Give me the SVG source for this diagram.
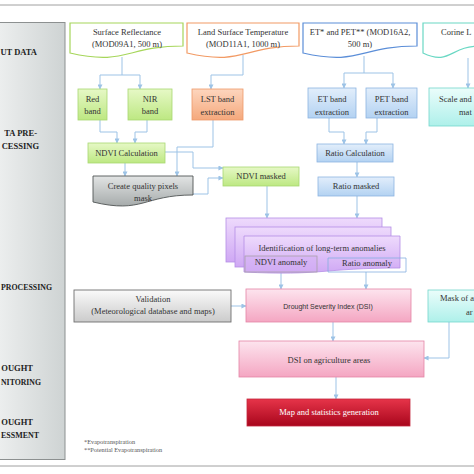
<svg xmlns="http://www.w3.org/2000/svg" width="474" height="474" viewBox="0 0 474 474">
<defs>
<linearGradient id="gPanel" x1="0" y1="0" x2="1" y2="0"><stop offset="0" stop-color="#eef0f0"/><stop offset="1" stop-color="#ced3d3"/></linearGradient>
<linearGradient id="gGreen" x1="0" y1="0" x2="0" y2="1"><stop offset="0" stop-color="#e6f8c6"/><stop offset="1" stop-color="#bde882"/></linearGradient>
<linearGradient id="gOrange" x1="0" y1="0" x2="0" y2="1"><stop offset="0" stop-color="#fdd6be"/><stop offset="1" stop-color="#f5a87c"/></linearGradient>
<linearGradient id="gBlue" x1="0" y1="0" x2="0" y2="1"><stop offset="0" stop-color="#e2eefb"/><stop offset="1" stop-color="#b3d2f2"/></linearGradient>
<linearGradient id="gTeal" x1="0" y1="0" x2="0" y2="1"><stop offset="0" stop-color="#ebfdfb"/><stop offset="1" stop-color="#aef0ea"/></linearGradient>
<linearGradient id="gPink" x1="0" y1="0" x2="0" y2="1"><stop offset="0" stop-color="#fde4ee"/><stop offset="1" stop-color="#f4a6c2"/></linearGradient>
<linearGradient id="gRed" x1="0" y1="0" x2="0" y2="1"><stop offset="0" stop-color="#e63449"/><stop offset="1" stop-color="#a8061c"/></linearGradient>
<linearGradient id="gPurple" x1="0" y1="0" x2="0" y2="1"><stop offset="0" stop-color="#eedafc"/><stop offset="1" stop-color="#cfa8f4"/></linearGradient>
<linearGradient id="gGray" x1="0" y1="0" x2="0" y2="1"><stop offset="0" stop-color="#e2e4e4"/><stop offset="1" stop-color="#a6abab"/></linearGradient>
<linearGradient id="gLight" x1="0" y1="0" x2="0" y2="1"><stop offset="0" stop-color="#fafafa"/><stop offset="1" stop-color="#cbcbcb"/></linearGradient>
<marker id="arr" viewBox="0 0 6 6" refX="5.5" refY="3" markerWidth="5" markerHeight="5" markerUnits="userSpaceOnUse" orient="auto"><path d="M0,0 L6,3 L0,6 z" fill="#9dc3e6"/></marker>
</defs>
<style>
.t{font-family:"Liberation Serif","Times New Roman",serif;font-size:8.5px;fill:#333;text-anchor:middle}
.s{font-family:"Liberation Sans",Arial,sans-serif;font-size:7px;fill:#333;text-anchor:middle}
.lab{font-family:"Liberation Serif","Times New Roman",serif;font-size:8.5px;font-weight:bold;fill:#222;text-anchor:end}
.labs{font-family:"Liberation Serif","Times New Roman",serif;font-size:8.5px;font-weight:bold;fill:#222}
.fn{font-family:"Liberation Serif","Times New Roman",serif;font-size:6.3px;fill:#555}
.c{fill:none;stroke:#9dc3e6;stroke-width:1;marker-end:url(#arr)}
.cn{fill:none;stroke:#9dc3e6;stroke-width:1}
</style>
<rect width="474" height="474" fill="#ffffff"/>
<line x1="0" y1="5" x2="474" y2="5" stroke="#a0a0a0" stroke-width="1"/>
<line x1="0" y1="466" x2="474" y2="466" stroke="#a0a0a0" stroke-width="1"/>

<g id="stages">
<rect x="-5" y="22.5" width="70" height="437" fill="url(#gPanel)" stroke="#8c9090" stroke-width="1"/>
<text class="lab" x="37" y="55">UT DATA</text>
<text class="lab" x="37" y="136">TA PRE-</text>
<text class="lab" x="39" y="149">CESSING</text>
<text class="labs" x="1" y="290" textLength="51" lengthAdjust="spacingAndGlyphs">PROCESSING</text>
<text class="lab" x="33" y="371">OUGHT</text>
<text class="labs" x="1" y="385" textLength="40" lengthAdjust="spacingAndGlyphs">NITORING</text>
<text class="lab" x="33" y="425">OUGHT</text>
<text class="labs" x="1" y="438" textLength="38" lengthAdjust="spacingAndGlyphs">ESSMENT</text>
</g>

<g id="connectors">
<path class="cn" d="M122,57 V75 H100"/><path class="c" d="M100,75 V89"/>
<path class="c" d="M122,75 H140 V89"/>
<path class="c" d="M243,55 V75 H211 V89"/>
<path class="cn" d="M364,56 V73 H344"/><path class="c" d="M344,73 V88"/>
<path class="c" d="M364,73 H393 V88"/>
<path class="c" d="M468,58 V88"/>
<path class="c" d="M100,120 V132 H117 V143"/>
<path class="c" d="M147,120 V132 H135 V143"/>
<path class="c" d="M125,163 V176"/>
<path class="c" d="M213,120 V147 H177 V176"/>
<path class="c" d="M165,152 H193 V168 H223"/>
<path class="c" d="M193,194 H208 V178 H223"/>
<path class="c" d="M329,118 V132 H344 V144"/>
<path class="c" d="M377,118 V132 H366 V144"/>
<path class="c" d="M357,162 V177"/>
<path class="c" d="M267,186 V218"/>
<path class="c" d="M357,196 V218"/>
<path class="c" d="M281,272 V289"/>
<path class="c" d="M366,272 V289"/>
<path class="c" d="M231,306 H246"/>
<path class="c" d="M333,322 V341"/>
<path class="c" d="M449,322 V358 H424"/>
<path class="c" d="M336,377 V399"/>
</g>

<g id="surface-reflectance">
<path d="M70,23 H183 V46 C126,46 126,66 70,53 Z" fill="#ffffff" stroke="#a6d65a" stroke-width="1.2"/>
<text class="t" x="127" y="35">Surface Reflectance</text>
<text class="t" x="127" y="47">(MOD09A1, 500 m)</text>
</g>
<g id="land-surface-temperature">
<path d="M187,23 H299 V46 C243,46 243,66 187,53 Z" fill="#ffffff" stroke="#f29a64" stroke-width="1.2"/>
<text class="t" x="243" y="35">Land Surface Temperature</text>
<text class="t" x="243" y="47">(MOD11A1, 1000 m)</text>
</g>
<g id="et-pet">
<path d="M303,23 H417 V46 C360,46 360,66 303,53 Z" fill="#ffffff" stroke="#5b8ed8" stroke-width="1.2"/>
<text class="t" x="360" y="35">ET* and PET** (MOD16A2,</text>
<text class="t" x="360" y="47">500 m)</text>
</g>
<g id="corine">
<path d="M423,23 H480 V46 C450,46 450,66 423,53 Z" fill="#ffffff" stroke="#6ad8c4" stroke-width="1.2"/>
<text class="t" x="441" y="35" style="text-anchor:start">Corine L</text>
</g>

<g id="red-band">
<rect x="78" y="89" width="29" height="31" fill="url(#gGreen)" stroke="#a8d872" stroke-width="0.8"/>
<text class="t" x="92.5" y="102">Red</text>
<text class="t" x="92.5" y="114">band</text>
</g>
<g id="nir-band">
<rect x="128" y="89" width="44" height="31" fill="url(#gGreen)" stroke="#a8d872" stroke-width="0.8"/>
<text class="t" x="150" y="102">NIR</text>
<text class="t" x="150" y="114">band</text>
</g>
<g id="lst-band">
<rect x="192" y="89" width="51" height="31" fill="url(#gOrange)" stroke="#ee9a6a" stroke-width="0.8"/>
<text class="t" x="217.5" y="102">LST band</text>
<text class="t" x="217.5" y="115">extraction</text>
</g>
<g id="et-band">
<rect x="308" y="88" width="48" height="30" fill="url(#gBlue)" stroke="#8db4e2" stroke-width="0.8"/>
<text class="t" x="332" y="102">ET band</text>
<text class="t" x="332" y="115">extraction</text>
</g>
<g id="pet-band">
<rect x="366" y="88" width="51" height="30" fill="url(#gBlue)" stroke="#8db4e2" stroke-width="0.8"/>
<text class="t" x="391.5" y="102">PET band</text>
<text class="t" x="391.5" y="115">extraction</text>
</g>
<g id="scale">
<rect x="429" y="88" width="50" height="38" fill="url(#gTeal)" stroke="#74d6cc" stroke-width="0.8"/>
<text class="t" x="439" y="102" style="text-anchor:start">Scale and</text>
<text class="t" x="459" y="115" style="text-anchor:start">mat</text>
</g>

<g id="ndvi-calculation">
<rect x="88" y="143" width="77" height="20" fill="url(#gGreen)" stroke="#a8d872" stroke-width="0.8"/>
<text class="t" x="126.5" y="156">NDVI Calculation</text>
</g>
<g id="quality-mask">
<path d="M93,176 H193 V195 C143,195 143,214 93,202 Z" fill="url(#gGray)" stroke="#505555" stroke-width="0.9"/>
<text class="t" x="143" y="189">Create quality pixels</text>
<text class="t" x="143" y="201">mask</text>
</g>
<g id="ndvi-masked">
<rect x="223" y="167" width="76" height="19" fill="url(#gGreen)" stroke="#a8d872" stroke-width="0.8"/>
<text class="t" x="261" y="179">NDVI masked</text>
</g>
<g id="ratio-calculation">
<rect x="317" y="144" width="76" height="18" fill="url(#gBlue)" stroke="#8db4e2" stroke-width="0.8"/>
<text class="t" x="355" y="156">Ratio Calculation</text>
</g>
<g id="ratio-masked">
<rect x="318" y="177" width="76" height="19" fill="url(#gBlue)" stroke="#8db4e2" stroke-width="0.8"/>
<text class="t" x="356" y="189">Ratio masked</text>
</g>

<g id="anomalies">
<rect x="226" y="218" width="156" height="44" fill="url(#gPurple)" stroke="#b48ee6" stroke-width="0.8"/>
<rect x="235" y="227" width="156" height="40" fill="url(#gPurple)" stroke="#b48ee6" stroke-width="0.8"/>
<path d="M244,236 H400 V268 C322,268 322,276 244,272 Z" fill="url(#gPurple)" stroke="#b48ee6" stroke-width="0.8"/>
<text class="t" x="322" y="251">Identification of long-term anomalies</text>
<rect x="245" y="256" width="72" height="16" fill="#d2aef4" fill-opacity="0.5" stroke="#a9a0a8" stroke-width="0.8"/>
<text class="t" x="281" y="265">NDVI anomaly</text>
<path d="M328,258 H406 V272 H328 Z" fill="none" stroke="#86aee0" stroke-width="0.8"/>
<text class="t" x="367" y="266">Ratio anomaly</text>
</g>

<g id="validation">
<rect x="74" y="290" width="157" height="32" fill="url(#gLight)" stroke="#707070" stroke-width="0.9"/>
<text class="t" x="153" y="302">Validation</text>
<text class="t" x="153" y="314">(Meteorological database and maps)</text>
</g>
<g id="dsi">
<rect x="246" y="289" width="165" height="33" fill="url(#gPink)" stroke="#e484a6" stroke-width="0.8"/>
<text class="s" x="328" y="308.5">Drought Severity Index (DSI)</text>
</g>
<g id="mask-agri">
<rect x="428" y="290" width="52" height="32" fill="url(#gTeal)" stroke="#74d6cc" stroke-width="0.8"/>
<text class="t" x="440" y="301" style="text-anchor:start">Mask of a</text>
<text class="t" x="466" y="315" style="text-anchor:start">ar</text>
</g>
<g id="dsi-agri">
<rect x="239" y="341" width="185" height="36" fill="url(#gPink)" stroke="#e484a6" stroke-width="0.8"/>
<text class="t" x="329" y="363">DSI on agriculture areas</text>
</g>
<g id="map-stats">
<rect x="247" y="399" width="163" height="27" fill="url(#gRed)" stroke="#c4273c" stroke-width="0.8"/>
<text class="t" x="329" y="415" style="fill:#ffffff">Map and statistics generation</text>
</g>

<g id="footnotes">
<text class="fn" x="84" y="444">*Evapotranspiration</text>
<text class="fn" x="84" y="452">**Potential Evapotranspiration</text>
</g>
</svg>
